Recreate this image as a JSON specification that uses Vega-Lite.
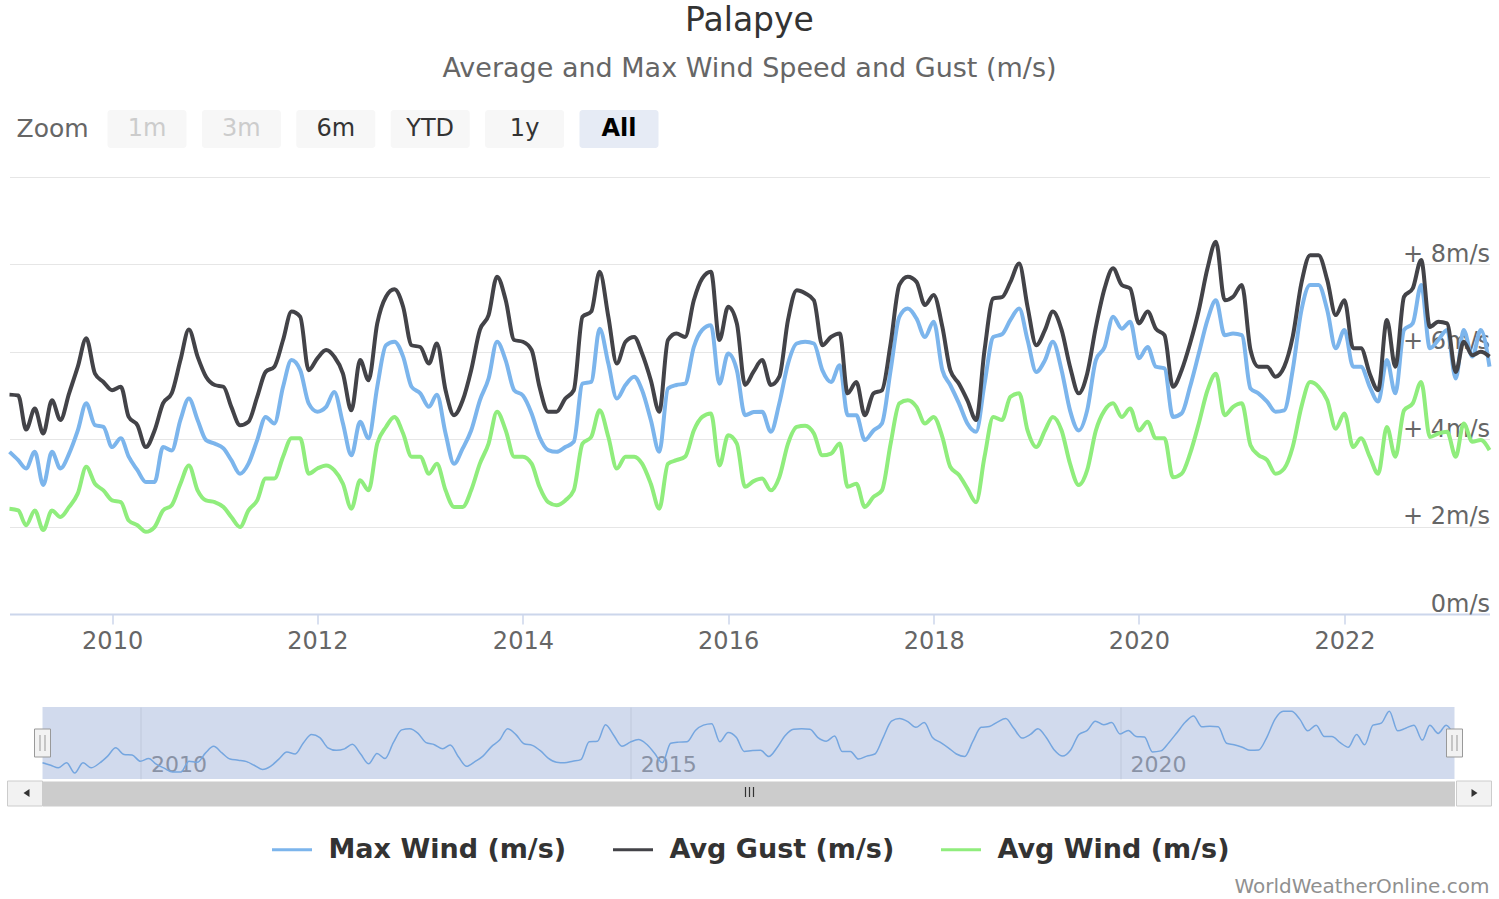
{
  "$schema": "https://vega.github.io/schema/vega-lite/v6.json",
  "background": "#ffffff",
  "padding": {"left": 1.5, "right": 9, "top": 5, "bottom": 0},
  "config": {
    "font": "DejaVu Sans",
    "view": {"stroke": null},
    "title": {"fontSize": 33, "fontWeight": "normal", "color": "#333333", "subtitleFontSize": 27, "subtitleColor": "#666666", "subtitlePadding": 18, "offset": 28, "anchor": "middle"},
    "legend": {"orient": "bottom", "direction": "horizontal", "symbolType": "stroke", "symbolSize": 1600, "symbolStrokeWidth": 3, "labelFontSize": 27, "labelFontWeight": "bold", "labelColor": "#333333", "labelOffset": 15, "columnPadding": 40, "offset": 20, "labelLimit": 0, "layout": {"bottom": {"anchor": "middle"}}}
  },
  "title": {"text": "WorldWeatherOnline.com", "orient": "bottom", "anchor": "end", "fontSize": 20, "color": "#909090", "offset": 14, "dx": -8},
  "datasets": {
    "zoom": [
      {"label": "Zoom", "state": "label"},
      {"label": "1m", "state": "disabled"},
      {"label": "3m", "state": "disabled"},
      {"label": "6m", "state": "normal"},
      {"label": "YTD", "state": "normal"},
      {"label": "1y", "state": "normal"},
      {"label": "All", "state": "selected"}
    ],
    "wind": [
      {"date": "2009-01-01", "Max Wind (m/s)": 3.71, "Avg Gust (m/s)": 5.02, "Avg Wind (m/s)": 2.41},
      {"date": "2009-02-01", "Max Wind (m/s)": 3.52, "Avg Gust (m/s)": 5.00, "Avg Wind (m/s)": 2.37},
      {"date": "2009-03-01", "Max Wind (m/s)": 3.33, "Avg Gust (m/s)": 4.22, "Avg Wind (m/s)": 2.03},
      {"date": "2009-04-01", "Max Wind (m/s)": 3.71, "Avg Gust (m/s)": 4.70, "Avg Wind (m/s)": 2.37},
      {"date": "2009-05-01", "Max Wind (m/s)": 2.95, "Avg Gust (m/s)": 4.13, "Avg Wind (m/s)": 1.92},
      {"date": "2009-06-01", "Max Wind (m/s)": 3.71, "Avg Gust (m/s)": 4.89, "Avg Wind (m/s)": 2.37},
      {"date": "2009-07-01", "Max Wind (m/s)": 3.33, "Avg Gust (m/s)": 4.44, "Avg Wind (m/s)": 2.22},
      {"date": "2009-08-01", "Max Wind (m/s)": 3.67, "Avg Gust (m/s)": 5.05, "Avg Wind (m/s)": 2.45},
      {"date": "2009-09-01", "Max Wind (m/s)": 4.20, "Avg Gust (m/s)": 5.66, "Avg Wind (m/s)": 2.76},
      {"date": "2009-10-01", "Max Wind (m/s)": 4.82, "Avg Gust (m/s)": 6.31, "Avg Wind (m/s)": 3.37},
      {"date": "2009-11-01", "Max Wind (m/s)": 4.32, "Avg Gust (m/s)": 5.50, "Avg Wind (m/s)": 2.98},
      {"date": "2009-12-01", "Max Wind (m/s)": 4.28, "Avg Gust (m/s)": 5.31, "Avg Wind (m/s)": 2.83},
      {"date": "2010-01-01", "Max Wind (m/s)": 3.82, "Avg Gust (m/s)": 5.12, "Avg Wind (m/s)": 2.60},
      {"date": "2010-02-01", "Max Wind (m/s)": 4.02, "Avg Gust (m/s)": 5.20, "Avg Wind (m/s)": 2.56},
      {"date": "2010-03-01", "Max Wind (m/s)": 3.60, "Avg Gust (m/s)": 4.51, "Avg Wind (m/s)": 2.14},
      {"date": "2010-04-01", "Max Wind (m/s)": 3.29, "Avg Gust (m/s)": 4.32, "Avg Wind (m/s)": 2.03},
      {"date": "2010-05-01", "Max Wind (m/s)": 3.02, "Avg Gust (m/s)": 3.82, "Avg Wind (m/s)": 1.88},
      {"date": "2010-06-01", "Max Wind (m/s)": 3.02, "Avg Gust (m/s)": 4.20, "Avg Wind (m/s)": 1.99},
      {"date": "2010-07-01", "Max Wind (m/s)": 3.82, "Avg Gust (m/s)": 4.82, "Avg Wind (m/s)": 2.37},
      {"date": "2010-08-01", "Max Wind (m/s)": 3.74, "Avg Gust (m/s)": 5.05, "Avg Wind (m/s)": 2.49},
      {"date": "2010-09-01", "Max Wind (m/s)": 4.44, "Avg Gust (m/s)": 5.81, "Avg Wind (m/s)": 2.98},
      {"date": "2010-10-01", "Max Wind (m/s)": 4.93, "Avg Gust (m/s)": 6.51, "Avg Wind (m/s)": 3.40},
      {"date": "2010-11-01", "Max Wind (m/s)": 4.44, "Avg Gust (m/s)": 5.89, "Avg Wind (m/s)": 2.83},
      {"date": "2010-12-01", "Max Wind (m/s)": 3.98, "Avg Gust (m/s)": 5.43, "Avg Wind (m/s)": 2.60},
      {"date": "2011-01-01", "Max Wind (m/s)": 3.90, "Avg Gust (m/s)": 5.24, "Avg Wind (m/s)": 2.56},
      {"date": "2011-02-01", "Max Wind (m/s)": 3.79, "Avg Gust (m/s)": 5.20, "Avg Wind (m/s)": 2.45},
      {"date": "2011-03-01", "Max Wind (m/s)": 3.52, "Avg Gust (m/s)": 4.74, "Avg Wind (m/s)": 2.22},
      {"date": "2011-04-01", "Max Wind (m/s)": 3.21, "Avg Gust (m/s)": 4.32, "Avg Wind (m/s)": 1.99},
      {"date": "2011-05-01", "Max Wind (m/s)": 3.44, "Avg Gust (m/s)": 4.40, "Avg Wind (m/s)": 2.37},
      {"date": "2011-06-01", "Max Wind (m/s)": 3.98, "Avg Gust (m/s)": 4.97, "Avg Wind (m/s)": 2.60},
      {"date": "2011-07-01", "Max Wind (m/s)": 4.51, "Avg Gust (m/s)": 5.54, "Avg Wind (m/s)": 3.10},
      {"date": "2011-08-01", "Max Wind (m/s)": 4.36, "Avg Gust (m/s)": 5.66, "Avg Wind (m/s)": 3.10},
      {"date": "2011-09-01", "Max Wind (m/s)": 5.20, "Avg Gust (m/s)": 6.27, "Avg Wind (m/s)": 3.60},
      {"date": "2011-10-01", "Max Wind (m/s)": 5.81, "Avg Gust (m/s)": 6.92, "Avg Wind (m/s)": 4.02},
      {"date": "2011-11-01", "Max Wind (m/s)": 5.58, "Avg Gust (m/s)": 6.80, "Avg Wind (m/s)": 4.02},
      {"date": "2011-12-01", "Max Wind (m/s)": 4.82, "Avg Gust (m/s)": 5.58, "Avg Wind (m/s)": 3.21},
      {"date": "2012-01-01", "Max Wind (m/s)": 4.63, "Avg Gust (m/s)": 5.85, "Avg Wind (m/s)": 3.33},
      {"date": "2012-02-01", "Max Wind (m/s)": 4.74, "Avg Gust (m/s)": 6.04, "Avg Wind (m/s)": 3.40},
      {"date": "2012-03-01", "Max Wind (m/s)": 5.08, "Avg Gust (m/s)": 5.89, "Avg Wind (m/s)": 3.29},
      {"date": "2012-04-01", "Max Wind (m/s)": 4.36, "Avg Gust (m/s)": 5.50, "Avg Wind (m/s)": 2.98},
      {"date": "2012-05-01", "Max Wind (m/s)": 3.63, "Avg Gust (m/s)": 4.66, "Avg Wind (m/s)": 2.41},
      {"date": "2012-06-01", "Max Wind (m/s)": 4.40, "Avg Gust (m/s)": 5.81, "Avg Wind (m/s)": 3.06},
      {"date": "2012-07-01", "Max Wind (m/s)": 4.02, "Avg Gust (m/s)": 5.35, "Avg Wind (m/s)": 2.83},
      {"date": "2012-08-01", "Max Wind (m/s)": 5.20, "Avg Gust (m/s)": 6.65, "Avg Wind (m/s)": 3.90},
      {"date": "2012-09-01", "Max Wind (m/s)": 6.15, "Avg Gust (m/s)": 7.26, "Avg Wind (m/s)": 4.28},
      {"date": "2012-10-01", "Max Wind (m/s)": 6.23, "Avg Gust (m/s)": 7.43, "Avg Wind (m/s)": 4.51},
      {"date": "2012-11-01", "Max Wind (m/s)": 5.89, "Avg Gust (m/s)": 7.03, "Avg Wind (m/s)": 4.13},
      {"date": "2012-12-01", "Max Wind (m/s)": 5.20, "Avg Gust (m/s)": 6.15, "Avg Wind (m/s)": 3.60},
      {"date": "2013-01-01", "Max Wind (m/s)": 5.05, "Avg Gust (m/s)": 6.11, "Avg Wind (m/s)": 3.60},
      {"date": "2013-02-01", "Max Wind (m/s)": 4.74, "Avg Gust (m/s)": 5.73, "Avg Wind (m/s)": 3.21},
      {"date": "2013-03-01", "Max Wind (m/s)": 5.02, "Avg Gust (m/s)": 6.19, "Avg Wind (m/s)": 3.44},
      {"date": "2013-04-01", "Max Wind (m/s)": 4.13, "Avg Gust (m/s)": 5.12, "Avg Wind (m/s)": 2.83},
      {"date": "2013-05-01", "Max Wind (m/s)": 3.44, "Avg Gust (m/s)": 4.55, "Avg Wind (m/s)": 2.45},
      {"date": "2013-06-01", "Max Wind (m/s)": 3.79, "Avg Gust (m/s)": 4.89, "Avg Wind (m/s)": 2.45},
      {"date": "2013-07-01", "Max Wind (m/s)": 4.20, "Avg Gust (m/s)": 5.58, "Avg Wind (m/s)": 2.83},
      {"date": "2013-08-01", "Max Wind (m/s)": 4.89, "Avg Gust (m/s)": 6.50, "Avg Wind (m/s)": 3.44},
      {"date": "2013-09-01", "Max Wind (m/s)": 5.39, "Avg Gust (m/s)": 6.84, "Avg Wind (m/s)": 3.90},
      {"date": "2013-10-01", "Max Wind (m/s)": 6.23, "Avg Gust (m/s)": 7.72, "Avg Wind (m/s)": 4.63},
      {"date": "2013-11-01", "Max Wind (m/s)": 5.80, "Avg Gust (m/s)": 7.18, "Avg Wind (m/s)": 4.20},
      {"date": "2013-12-01", "Max Wind (m/s)": 5.12, "Avg Gust (m/s)": 6.27, "Avg Wind (m/s)": 3.60},
      {"date": "2014-01-01", "Max Wind (m/s)": 5.00, "Avg Gust (m/s)": 6.23, "Avg Wind (m/s)": 3.60},
      {"date": "2014-02-01", "Max Wind (m/s)": 4.59, "Avg Gust (m/s)": 6.04, "Avg Wind (m/s)": 3.44},
      {"date": "2014-03-01", "Max Wind (m/s)": 4.05, "Avg Gust (m/s)": 5.20, "Avg Wind (m/s)": 2.91},
      {"date": "2014-04-01", "Max Wind (m/s)": 3.75, "Avg Gust (m/s)": 4.63, "Avg Wind (m/s)": 2.56},
      {"date": "2014-05-01", "Max Wind (m/s)": 3.71, "Avg Gust (m/s)": 4.63, "Avg Wind (m/s)": 2.49},
      {"date": "2014-06-01", "Max Wind (m/s)": 3.82, "Avg Gust (m/s)": 4.93, "Avg Wind (m/s)": 2.60},
      {"date": "2014-07-01", "Max Wind (m/s)": 3.94, "Avg Gust (m/s)": 5.12, "Avg Wind (m/s)": 2.83},
      {"date": "2014-08-01", "Max Wind (m/s)": 5.27, "Avg Gust (m/s)": 6.80, "Avg Wind (m/s)": 3.90},
      {"date": "2014-09-01", "Max Wind (m/s)": 5.31, "Avg Gust (m/s)": 6.92, "Avg Wind (m/s)": 4.05},
      {"date": "2014-10-01", "Max Wind (m/s)": 6.53, "Avg Gust (m/s)": 7.83, "Avg Wind (m/s)": 4.66},
      {"date": "2014-11-01", "Max Wind (m/s)": 5.73, "Avg Gust (m/s)": 6.80, "Avg Wind (m/s)": 4.05},
      {"date": "2014-12-01", "Max Wind (m/s)": 4.93, "Avg Gust (m/s)": 5.73, "Avg Wind (m/s)": 3.33},
      {"date": "2015-01-01", "Max Wind (m/s)": 5.24, "Avg Gust (m/s)": 6.23, "Avg Wind (m/s)": 3.60},
      {"date": "2015-02-01", "Max Wind (m/s)": 5.43, "Avg Gust (m/s)": 6.34, "Avg Wind (m/s)": 3.60},
      {"date": "2015-03-01", "Max Wind (m/s)": 5.12, "Avg Gust (m/s)": 5.96, "Avg Wind (m/s)": 3.44},
      {"date": "2015-04-01", "Max Wind (m/s)": 4.44, "Avg Gust (m/s)": 5.35, "Avg Wind (m/s)": 2.98},
      {"date": "2015-05-01", "Max Wind (m/s)": 3.71, "Avg Gust (m/s)": 4.63, "Avg Wind (m/s)": 2.41},
      {"date": "2015-06-01", "Max Wind (m/s)": 5.16, "Avg Gust (m/s)": 6.27, "Avg Wind (m/s)": 3.44},
      {"date": "2015-07-01", "Max Wind (m/s)": 5.24, "Avg Gust (m/s)": 6.42, "Avg Wind (m/s)": 3.52},
      {"date": "2015-08-01", "Max Wind (m/s)": 5.27, "Avg Gust (m/s)": 6.34, "Avg Wind (m/s)": 3.60},
      {"date": "2015-09-01", "Max Wind (m/s)": 6.11, "Avg Gust (m/s)": 7.18, "Avg Wind (m/s)": 4.20},
      {"date": "2015-10-01", "Max Wind (m/s)": 6.50, "Avg Gust (m/s)": 7.68, "Avg Wind (m/s)": 4.51},
      {"date": "2015-11-01", "Max Wind (m/s)": 6.61, "Avg Gust (m/s)": 7.83, "Avg Wind (m/s)": 4.59},
      {"date": "2015-12-01", "Max Wind (m/s)": 5.27, "Avg Gust (m/s)": 6.27, "Avg Wind (m/s)": 3.40},
      {"date": "2016-01-01", "Max Wind (m/s)": 5.96, "Avg Gust (m/s)": 7.03, "Avg Wind (m/s)": 4.09},
      {"date": "2016-02-01", "Max Wind (m/s)": 5.58, "Avg Gust (m/s)": 6.65, "Avg Wind (m/s)": 3.90},
      {"date": "2016-03-01", "Max Wind (m/s)": 4.55, "Avg Gust (m/s)": 5.24, "Avg Wind (m/s)": 2.91},
      {"date": "2016-04-01", "Max Wind (m/s)": 4.62, "Avg Gust (m/s)": 5.55, "Avg Wind (m/s)": 3.04},
      {"date": "2016-05-01", "Max Wind (m/s)": 4.63, "Avg Gust (m/s)": 5.81, "Avg Wind (m/s)": 3.10},
      {"date": "2016-06-01", "Max Wind (m/s)": 4.17, "Avg Gust (m/s)": 5.24, "Avg Wind (m/s)": 2.83},
      {"date": "2016-07-01", "Max Wind (m/s)": 4.82, "Avg Gust (m/s)": 5.43, "Avg Wind (m/s)": 3.13},
      {"date": "2016-08-01", "Max Wind (m/s)": 5.73, "Avg Gust (m/s)": 6.73, "Avg Wind (m/s)": 3.90},
      {"date": "2016-09-01", "Max Wind (m/s)": 6.19, "Avg Gust (m/s)": 7.41, "Avg Wind (m/s)": 4.28},
      {"date": "2016-10-01", "Max Wind (m/s)": 6.23, "Avg Gust (m/s)": 7.34, "Avg Wind (m/s)": 4.31},
      {"date": "2016-11-01", "Max Wind (m/s)": 6.19, "Avg Gust (m/s)": 7.18, "Avg Wind (m/s)": 4.13},
      {"date": "2016-12-01", "Max Wind (m/s)": 5.58, "Avg Gust (m/s)": 6.15, "Avg Wind (m/s)": 3.63},
      {"date": "2017-01-01", "Max Wind (m/s)": 5.31, "Avg Gust (m/s)": 6.34, "Avg Wind (m/s)": 3.67},
      {"date": "2017-02-01", "Max Wind (m/s)": 5.69, "Avg Gust (m/s)": 6.42, "Avg Wind (m/s)": 3.90},
      {"date": "2017-03-01", "Max Wind (m/s)": 4.55, "Avg Gust (m/s)": 5.05, "Avg Wind (m/s)": 2.91},
      {"date": "2017-04-01", "Max Wind (m/s)": 4.55, "Avg Gust (m/s)": 5.31, "Avg Wind (m/s)": 2.98},
      {"date": "2017-05-01", "Max Wind (m/s)": 3.98, "Avg Gust (m/s)": 4.55, "Avg Wind (m/s)": 2.45},
      {"date": "2017-06-01", "Max Wind (m/s)": 4.20, "Avg Gust (m/s)": 5.05, "Avg Wind (m/s)": 2.68},
      {"date": "2017-07-01", "Max Wind (m/s)": 4.36, "Avg Gust (m/s)": 5.12, "Avg Wind (m/s)": 2.83},
      {"date": "2017-08-01", "Max Wind (m/s)": 5.58, "Avg Gust (m/s)": 6.19, "Avg Wind (m/s)": 3.90},
      {"date": "2017-09-01", "Max Wind (m/s)": 6.80, "Avg Gust (m/s)": 7.53, "Avg Wind (m/s)": 4.82},
      {"date": "2017-10-01", "Max Wind (m/s)": 6.99, "Avg Gust (m/s)": 7.72, "Avg Wind (m/s)": 4.89},
      {"date": "2017-11-01", "Max Wind (m/s)": 6.76, "Avg Gust (m/s)": 7.60, "Avg Wind (m/s)": 4.74},
      {"date": "2017-12-01", "Max Wind (m/s)": 6.34, "Avg Gust (m/s)": 7.07, "Avg Wind (m/s)": 4.36},
      {"date": "2018-01-01", "Max Wind (m/s)": 6.69, "Avg Gust (m/s)": 7.30, "Avg Wind (m/s)": 4.51},
      {"date": "2018-02-01", "Max Wind (m/s)": 5.58, "Avg Gust (m/s)": 6.57, "Avg Wind (m/s)": 4.05},
      {"date": "2018-03-01", "Max Wind (m/s)": 5.24, "Avg Gust (m/s)": 5.58, "Avg Wind (m/s)": 3.37},
      {"date": "2018-04-01", "Max Wind (m/s)": 4.82, "Avg Gust (m/s)": 5.27, "Avg Wind (m/s)": 3.18},
      {"date": "2018-05-01", "Max Wind (m/s)": 4.36, "Avg Gust (m/s)": 4.89, "Avg Wind (m/s)": 2.87},
      {"date": "2018-06-01", "Max Wind (m/s)": 4.17, "Avg Gust (m/s)": 4.44, "Avg Wind (m/s)": 2.56},
      {"date": "2018-07-01", "Max Wind (m/s)": 5.27, "Avg Gust (m/s)": 6.04, "Avg Wind (m/s)": 3.60},
      {"date": "2018-08-01", "Max Wind (m/s)": 6.34, "Avg Gust (m/s)": 7.22, "Avg Wind (m/s)": 4.51},
      {"date": "2018-09-01", "Max Wind (m/s)": 6.40, "Avg Gust (m/s)": 7.25, "Avg Wind (m/s)": 4.44},
      {"date": "2018-10-01", "Max Wind (m/s)": 6.73, "Avg Gust (m/s)": 7.60, "Avg Wind (m/s)": 4.97},
      {"date": "2018-11-01", "Max Wind (m/s)": 6.99, "Avg Gust (m/s)": 8.02, "Avg Wind (m/s)": 5.05},
      {"date": "2018-12-01", "Max Wind (m/s)": 6.27, "Avg Gust (m/s)": 7.03, "Avg Wind (m/s)": 4.20},
      {"date": "2019-01-01", "Max Wind (m/s)": 5.54, "Avg Gust (m/s)": 6.15, "Avg Wind (m/s)": 3.82},
      {"date": "2019-02-01", "Max Wind (m/s)": 5.81, "Avg Gust (m/s)": 6.50, "Avg Wind (m/s)": 4.20},
      {"date": "2019-03-01", "Max Wind (m/s)": 6.23, "Avg Gust (m/s)": 6.92, "Avg Wind (m/s)": 4.51},
      {"date": "2019-04-01", "Max Wind (m/s)": 5.58, "Avg Gust (m/s)": 6.50, "Avg Wind (m/s)": 4.20},
      {"date": "2019-05-01", "Max Wind (m/s)": 4.66, "Avg Gust (m/s)": 5.66, "Avg Wind (m/s)": 3.44},
      {"date": "2019-06-01", "Max Wind (m/s)": 4.20, "Avg Gust (m/s)": 5.05, "Avg Wind (m/s)": 2.95},
      {"date": "2019-07-01", "Max Wind (m/s)": 4.66, "Avg Gust (m/s)": 5.50, "Avg Wind (m/s)": 3.29},
      {"date": "2019-08-01", "Max Wind (m/s)": 5.81, "Avg Gust (m/s)": 6.57, "Avg Wind (m/s)": 4.20},
      {"date": "2019-09-01", "Max Wind (m/s)": 6.11, "Avg Gust (m/s)": 7.45, "Avg Wind (m/s)": 4.66},
      {"date": "2019-10-01", "Max Wind (m/s)": 6.80, "Avg Gust (m/s)": 7.91, "Avg Wind (m/s)": 4.82},
      {"date": "2019-11-01", "Max Wind (m/s)": 6.53, "Avg Gust (m/s)": 7.53, "Avg Wind (m/s)": 4.51},
      {"date": "2019-12-01", "Max Wind (m/s)": 6.69, "Avg Gust (m/s)": 7.45, "Avg Wind (m/s)": 4.70},
      {"date": "2020-01-01", "Max Wind (m/s)": 5.85, "Avg Gust (m/s)": 6.65, "Avg Wind (m/s)": 4.20},
      {"date": "2020-02-01", "Max Wind (m/s)": 6.11, "Avg Gust (m/s)": 6.92, "Avg Wind (m/s)": 4.40},
      {"date": "2020-03-01", "Max Wind (m/s)": 5.66, "Avg Gust (m/s)": 6.53, "Avg Wind (m/s)": 4.02},
      {"date": "2020-04-01", "Max Wind (m/s)": 5.62, "Avg Gust (m/s)": 6.38, "Avg Wind (m/s)": 4.02},
      {"date": "2020-05-01", "Max Wind (m/s)": 4.51, "Avg Gust (m/s)": 5.20, "Avg Wind (m/s)": 3.13},
      {"date": "2020-06-01", "Max Wind (m/s)": 4.59, "Avg Gust (m/s)": 5.58, "Avg Wind (m/s)": 3.21},
      {"date": "2020-07-01", "Max Wind (m/s)": 5.20, "Avg Gust (m/s)": 6.19, "Avg Wind (m/s)": 3.67},
      {"date": "2020-08-01", "Max Wind (m/s)": 5.96, "Avg Gust (m/s)": 6.95, "Avg Wind (m/s)": 4.36},
      {"date": "2020-09-01", "Max Wind (m/s)": 6.73, "Avg Gust (m/s)": 7.91, "Avg Wind (m/s)": 5.12},
      {"date": "2020-10-01", "Max Wind (m/s)": 7.18, "Avg Gust (m/s)": 8.52, "Avg Wind (m/s)": 5.50},
      {"date": "2020-11-01", "Max Wind (m/s)": 6.38, "Avg Gust (m/s)": 7.18, "Avg Wind (m/s)": 4.55},
      {"date": "2020-12-01", "Max Wind (m/s)": 6.42, "Avg Gust (m/s)": 7.26, "Avg Wind (m/s)": 4.74},
      {"date": "2021-01-01", "Max Wind (m/s)": 6.38, "Avg Gust (m/s)": 7.53, "Avg Wind (m/s)": 4.82},
      {"date": "2021-02-01", "Max Wind (m/s)": 5.16, "Avg Gust (m/s)": 6.04, "Avg Wind (m/s)": 3.86},
      {"date": "2021-03-01", "Max Wind (m/s)": 5.05, "Avg Gust (m/s)": 5.66, "Avg Wind (m/s)": 3.64},
      {"date": "2021-04-01", "Max Wind (m/s)": 4.86, "Avg Gust (m/s)": 5.66, "Avg Wind (m/s)": 3.52},
      {"date": "2021-05-01", "Max Wind (m/s)": 4.63, "Avg Gust (m/s)": 5.43, "Avg Wind (m/s)": 3.21},
      {"date": "2021-06-01", "Max Wind (m/s)": 4.66, "Avg Gust (m/s)": 5.66, "Avg Wind (m/s)": 3.33},
      {"date": "2021-07-01", "Max Wind (m/s)": 5.58, "Avg Gust (m/s)": 6.34, "Avg Wind (m/s)": 3.82},
      {"date": "2021-08-01", "Max Wind (m/s)": 6.95, "Avg Gust (m/s)": 7.57, "Avg Wind (m/s)": 4.74},
      {"date": "2021-09-01", "Max Wind (m/s)": 7.53, "Avg Gust (m/s)": 8.21, "Avg Wind (m/s)": 5.31},
      {"date": "2021-10-01", "Max Wind (m/s)": 7.53, "Avg Gust (m/s)": 8.21, "Avg Wind (m/s)": 5.20},
      {"date": "2021-11-01", "Max Wind (m/s)": 6.95, "Avg Gust (m/s)": 7.64, "Avg Wind (m/s)": 4.89},
      {"date": "2021-12-01", "Max Wind (m/s)": 6.08, "Avg Gust (m/s)": 6.84, "Avg Wind (m/s)": 4.24},
      {"date": "2022-01-01", "Max Wind (m/s)": 6.50, "Avg Gust (m/s)": 7.18, "Avg Wind (m/s)": 4.59},
      {"date": "2022-02-01", "Max Wind (m/s)": 5.66, "Avg Gust (m/s)": 6.08, "Avg Wind (m/s)": 3.82},
      {"date": "2022-03-01", "Max Wind (m/s)": 5.66, "Avg Gust (m/s)": 6.08, "Avg Wind (m/s)": 4.02},
      {"date": "2022-04-01", "Max Wind (m/s)": 5.20, "Avg Gust (m/s)": 5.50, "Avg Wind (m/s)": 3.60},
      {"date": "2022-05-01", "Max Wind (m/s)": 4.86, "Avg Gust (m/s)": 5.12, "Avg Wind (m/s)": 3.21},
      {"date": "2022-06-01", "Max Wind (m/s)": 5.81, "Avg Gust (m/s)": 6.73, "Avg Wind (m/s)": 4.28},
      {"date": "2022-07-01", "Max Wind (m/s)": 5.05, "Avg Gust (m/s)": 5.66, "Avg Wind (m/s)": 3.60},
      {"date": "2022-08-01", "Max Wind (m/s)": 6.50, "Avg Gust (m/s)": 7.26, "Avg Wind (m/s)": 4.66},
      {"date": "2022-09-01", "Max Wind (m/s)": 6.65, "Avg Gust (m/s)": 7.45, "Avg Wind (m/s)": 4.82},
      {"date": "2022-10-01", "Max Wind (m/s)": 7.53, "Avg Gust (m/s)": 8.10, "Avg Wind (m/s)": 5.31},
      {"date": "2022-11-01", "Max Wind (m/s)": 6.08, "Avg Gust (m/s)": 6.57, "Avg Wind (m/s)": 4.05},
      {"date": "2022-12-01", "Max Wind (m/s)": 6.27, "Avg Gust (m/s)": 6.69, "Avg Wind (m/s)": 4.13},
      {"date": "2023-01-01", "Max Wind (m/s)": 6.50, "Avg Gust (m/s)": 6.65, "Avg Wind (m/s)": 4.17},
      {"date": "2023-02-01", "Max Wind (m/s)": 5.39, "Avg Gust (m/s)": 5.54, "Avg Wind (m/s)": 3.60},
      {"date": "2023-03-01", "Max Wind (m/s)": 6.50, "Avg Gust (m/s)": 6.23, "Avg Wind (m/s)": 4.36},
      {"date": "2023-04-01", "Max Wind (m/s)": 5.89, "Avg Gust (m/s)": 5.92, "Avg Wind (m/s)": 3.94},
      {"date": "2023-05-01", "Max Wind (m/s)": 6.50, "Avg Gust (m/s)": 6.00, "Avg Wind (m/s)": 3.98},
      {"date": "2023-06-01", "Max Wind (m/s)": 5.66, "Avg Gust (m/s)": 5.89, "Avg Wind (m/s)": 3.75}
    ]
  },
  "spacing": 26,
  "vconcat": [
    {
      "width": 1480,
      "height": 38,
      "title": {"text": "Palapye", "subtitle": "Average and Max Wind Speed and Gust (m/s)"},
      "data": {"name": "zoom"},
      "encoding": {
        "x": {"field": "label", "type": "nominal", "sort": null, "axis": null,
              "scale": {"domain": ["Zoom", "1m", "3m", "6m", "YTD", "1y", "All"], "range": [3.6, 649], "paddingInner": 0.163, "paddingOuter": 0}}
      },
      "layer": [
        {"transform": [{"filter": "datum.state == 'disabled' || datum.state == 'normal'"}],
         "mark": {"type": "rect", "color": "#f7f7f7", "cornerRadius": 3}},
        {"transform": [{"filter": "datum.state == 'selected'"}],
         "mark": {"type": "rect", "color": "#e6ebf5", "cornerRadius": 3}},
        {"transform": [{"filter": "datum.state == 'label'"}],
         "mark": {"type": "text", "color": "#666666", "fontSize": 25},
         "encoding": {"text": {"field": "label"}}},
        {"transform": [{"filter": "datum.state == 'disabled'"}],
         "mark": {"type": "text", "color": "#cccccc", "fontSize": 24},
         "encoding": {"text": {"field": "label"}}},
        {"transform": [{"filter": "datum.state == 'normal'"}],
         "mark": {"type": "text", "color": "#333333", "fontSize": 24},
         "encoding": {"text": {"field": "label"}}},
        {"transform": [{"filter": "datum.state == 'selected'"}],
         "mark": {"type": "text", "color": "#000000", "fontSize": 24, "fontWeight": "bold"},
         "encoding": {"text": {"field": "label"}}}
      ]
    },
    {
      "spacing": 54,
      "vconcat": [
        {
          "width": 1480,
          "height": 437,
          "data": {"name": "wind"},
          "transform": [{"fold": ["Max Wind (m/s)", "Avg Gust (m/s)", "Avg Wind (m/s)"], "as": ["series", "value"]}],
          "mark": {"type": "line", "interpolate": "monotone", "strokeWidth": 4},
          "encoding": {
            "x": {"field": "date", "type": "temporal",
                  "scale": {"type": "utc", "domain": [{"year": 2009, "month": 1, "date": 1, "utc": true}, {"year": 2023, "month": 6, "date": 1, "utc": true}]},
                  "axis": {"title": null, "tickCount": {"interval": "year", "step": 2}, "grid": false, "domainColor": "#ccd6eb", "domainWidth": 2, "tickColor": "#ccd6eb", "tickSize": 10, "tickWidth": 1.5, "labelColor": "#666666", "labelFontSize": 24, "labelPadding": 5, "labelFlush": false, "labelOverlap": false}},
            "y": {"field": "value", "type": "quantitative",
                  "scale": {"domain": [0, 10], "nice": false},
                  "axis": {"orient": "right", "title": null, "values": [0, 2, 4, 6, 8, 10],
                           "labelExpr": "datum.value == 10 ? '' : (datum.value == 0 ? '0m/s' : '+ ' + datum.value + 'm/s')",
                           "grid": true, "gridColor": "#e6e6e6", "gridWidth": 1, "domain": false, "ticks": false,
                           "labelAlign": "right", "labelBaseline": "alphabetic", "labelPadding": 0, "labelOffset": -3,
                           "labelColor": "#666666", "labelFontSize": {"condition": {"test": "datum.value == 10", "value": 0}, "value": 24},
                           "labelFlush": false, "labelOverlap": false}},
            "color": {"field": "series", "type": "nominal",
                      "scale": {"domain": ["Max Wind (m/s)", "Avg Gust (m/s)", "Avg Wind (m/s)"], "range": ["#7cb5ec", "#434348", "#90ed7d"]},
                      "legend": {"title": null}}
          }
        },
        {
          "width": 1480,
          "height": 72,
          "data": {"name": "wind"},
          "encoding": {
            "x": {"field": "date", "type": "temporal",
                  "scale": {"type": "utc", "range": [33, 1445], "domain": [{"year": 2009, "month": 1, "date": 1, "utc": true}, {"year": 2023, "month": 6, "date": 1, "utc": true}]},
                  "axis": {"title": null, "orient": "bottom", "offset": 14.5, "domainColor": "#cccccc", "domainWidth": 25,
                           "ticks": false, "tickSize": 0, "grid": true, "gridColor": "#e6e6e6",
                           "tickCount": {"interval": "year", "step": 5},
                           "labelAlign": "left", "labelBaseline": "middle", "labelPadding": -29.5, "labelOffset": 10,
                           "labelColor": "#999999", "labelFontSize": 22, "labelFlush": false, "labelOverlap": false}}
          },
          "layer": [
            {"mark": {"type": "line", "interpolate": "monotone", "strokeWidth": 1.5, "color": "#7cb5ec"},
             "encoding": {"y": {"field": "Max Wind (m/s)", "type": "quantitative",
                                "scale": {"domain": [2.5, 7.85], "nice": false, "zero": false}, "axis": null}}},
            {"mark": {"type": "rect", "color": "#6685c2", "opacity": 0.3},
             "encoding": {"x": {"aggregate": "min", "field": "date", "type": "temporal"}, "x2": {"aggregate": "max", "field": "date"}}},
            {"mark": {"type": "point", "shape": "M-8,-14 H8 V14 H-8 Z M-2.5,-8 V8 M2.5,-8 V8", "size": 4, "filled": true, "color": "#f2f2f2", "stroke": "#999999", "strokeWidth": 1, "opacity": 1},
             "encoding": {"x": {"aggregate": "min", "field": "date", "type": "temporal"}}},
            {"mark": {"type": "point", "shape": "M-8,-14 H8 V14 H-8 Z M-2.5,-8 V8 M2.5,-8 V8", "size": 4, "filled": true, "color": "#f2f2f2", "stroke": "#999999", "strokeWidth": 1, "opacity": 1},
             "encoding": {"x": {"aggregate": "max", "field": "date", "type": "temporal"}}},
            {"mark": {"type": "point", "shape": "M-35,38 H0 V63 H-35 Z", "size": 4, "filled": true, "color": "#f2f2f2", "stroke": "#cccccc", "strokeWidth": 1, "opacity": 1},
             "encoding": {"x": {"aggregate": "min", "field": "date", "type": "temporal"}}},
            {"mark": {"type": "point", "shape": "M-13,46 V54 L-19,50 Z", "size": 4, "filled": true, "color": "#333333", "opacity": 1},
             "encoding": {"x": {"aggregate": "min", "field": "date", "type": "temporal"}}},
            {"mark": {"type": "point", "shape": "M2,38 H37 V63 H2 Z", "size": 4, "filled": true, "color": "#f2f2f2", "stroke": "#cccccc", "strokeWidth": 1, "opacity": 1},
             "encoding": {"x": {"aggregate": "max", "field": "date", "type": "temporal"}}},
            {"mark": {"type": "point", "shape": "M17,46 V54 L23,50 Z", "size": 4, "filled": true, "color": "#333333", "opacity": 1},
             "encoding": {"x": {"aggregate": "max", "field": "date", "type": "temporal"}}},
            {"transform": [{"aggregate": [{"op": "count", "as": "n"}]}],
             "mark": {"type": "point", "shape": "M-4,44 V54 M0,44 V54 M4,44 V54", "size": 4, "filled": false, "stroke": "#333333", "strokeWidth": 1.2, "opacity": 1},
             "encoding": {"x": null}}
          ]
        }
      ]
    }
  ]
}
